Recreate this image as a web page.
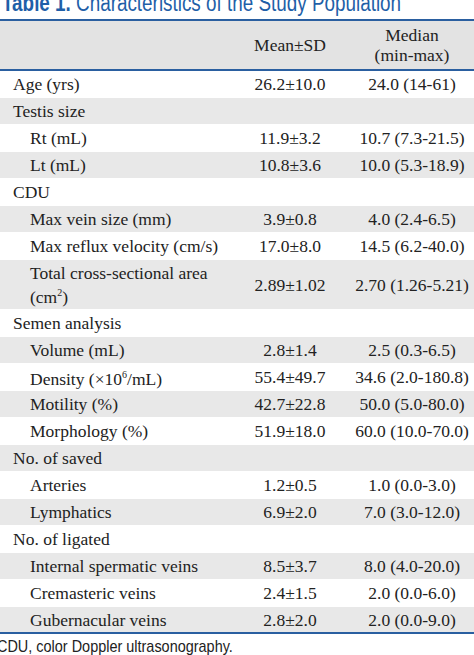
<!DOCTYPE html>
<html><head><meta charset="utf-8">
<script src="https://cdn.jsdelivr.net/npm/chart.js"></script>
<style>
body{margin:0;width:474px;height:655px;overflow:hidden;background:#fff;font-family:"Liberation Serif","Times New Roman",Times,serif;color:#222}
.title{position:absolute;top:-10px;left:2px;font-family:"Liberation Sans Narrow","Liberation Sans",sans-serif;font-size:23px;color:#1f5fa8;white-space:nowrap;transform:scaleX(0.82);transform-origin:left}
table{position:absolute;top:19px;left:0;width:474px;table-layout:fixed;border-collapse:separate;border-spacing:0;font-size:17.5px}
td{white-space:nowrap;box-sizing:border-box}
thead td{background:#e3e3e3;height:52px;text-align:center;line-height:20px;border-top:2px solid #2a5fa0;border-bottom:2px solid #2a5fa0}
tbody td{height:27px;padding:0;border-bottom:1px solid #fff;line-height:20px}
tbody tr.g td{background:#e8e8e8}
td.c1{padding-left:13px}
td.sub{padding-left:30px}
td.c2,td.c3{text-align:center}
tbody tr:last-child td{border-bottom:2px solid #2a5fa0}
.foot{position:absolute;top:637px;left:-3px;font-size:17px;font-family:"Liberation Sans Narrow","Liberation Sans",sans-serif;transform:scaleX(0.85);transform-origin:left;white-space:nowrap}
</style></head><body>
<div class="title"><b>Table 1.</b> Characteristics of the Study Population</div>
<table><colgroup><col style="width:230px"><col style="width:120px"><col style="width:124px"></colgroup>
<thead><tr><td></td><td>Mean±SD</td><td>Median<br>(min-max)</td></tr></thead><tbody id="tb"></tbody></table>
<div class="foot">CDU, color Doppler ultrasonography.</div>
<script>
const labels = ['Age (yrs)','Testis size','Rt (mL)','Lt (mL)','CDU','Max vein size (mm)','Max reflux velocity (cm/s)','Total cross-sectional area<br>(cm<sup style="font-size:10px">2</sup>)','Semen analysis','Volume (mL)','Density (×10<sup style="font-size:10px">6</sup>/mL)','Motility (%)','Morphology (%)','No. of saved','Arteries','Lymphatics','No. of ligated','Internal spermatic veins','Cremasteric veins','Gubernacular veins'];
const isSub = [0,0,1,1,0,1,1,1,0,1,1,1,1,0,1,1,0,1,1,1];
const meanSD = ['26.2±10.0','','11.9±3.2','10.8±3.6','','3.9±0.8','17.0±8.0','2.89±1.02','','2.8±1.4','55.4±49.7','42.7±22.8','51.9±18.0','','1.2±0.5','6.9±2.0','','8.5±3.7','2.4±1.5','2.8±2.0'];
const median = ['24.0 (14-61)','','10.7 (7.3-21.5)','10.0 (5.3-18.9)','','4.0 (2.4-6.5)','14.5 (6.2-40.0)','2.70 (1.26-5.21)','','2.5 (0.3-6.5)','34.6 (2.0-180.8)','50.0 (5.0-80.0)','60.0 (10.0-70.0)','','1.0 (0.0-3.0)','7.0 (3.0-12.0)','','8.0 (4.0-20.0)','2.0 (0.0-6.0)','2.0 (0.0-9.0)'];
const tb = document.getElementById('tb');
labels.forEach((l,i)=>{
  const tr=document.createElement('tr');
  if(i%2) tr.className='g';
  const two = l.includes('<br>');
  tr.innerHTML=`<td class="c1${isSub[i]?' sub':''}" style="${two?'height:50px;line-height:20px':''}">${l}</td><td class="c2">${meanSD[i]}</td><td class="c3">${median[i]}</td>`;
  tb.appendChild(tr);
});
</script>
</body></html>
